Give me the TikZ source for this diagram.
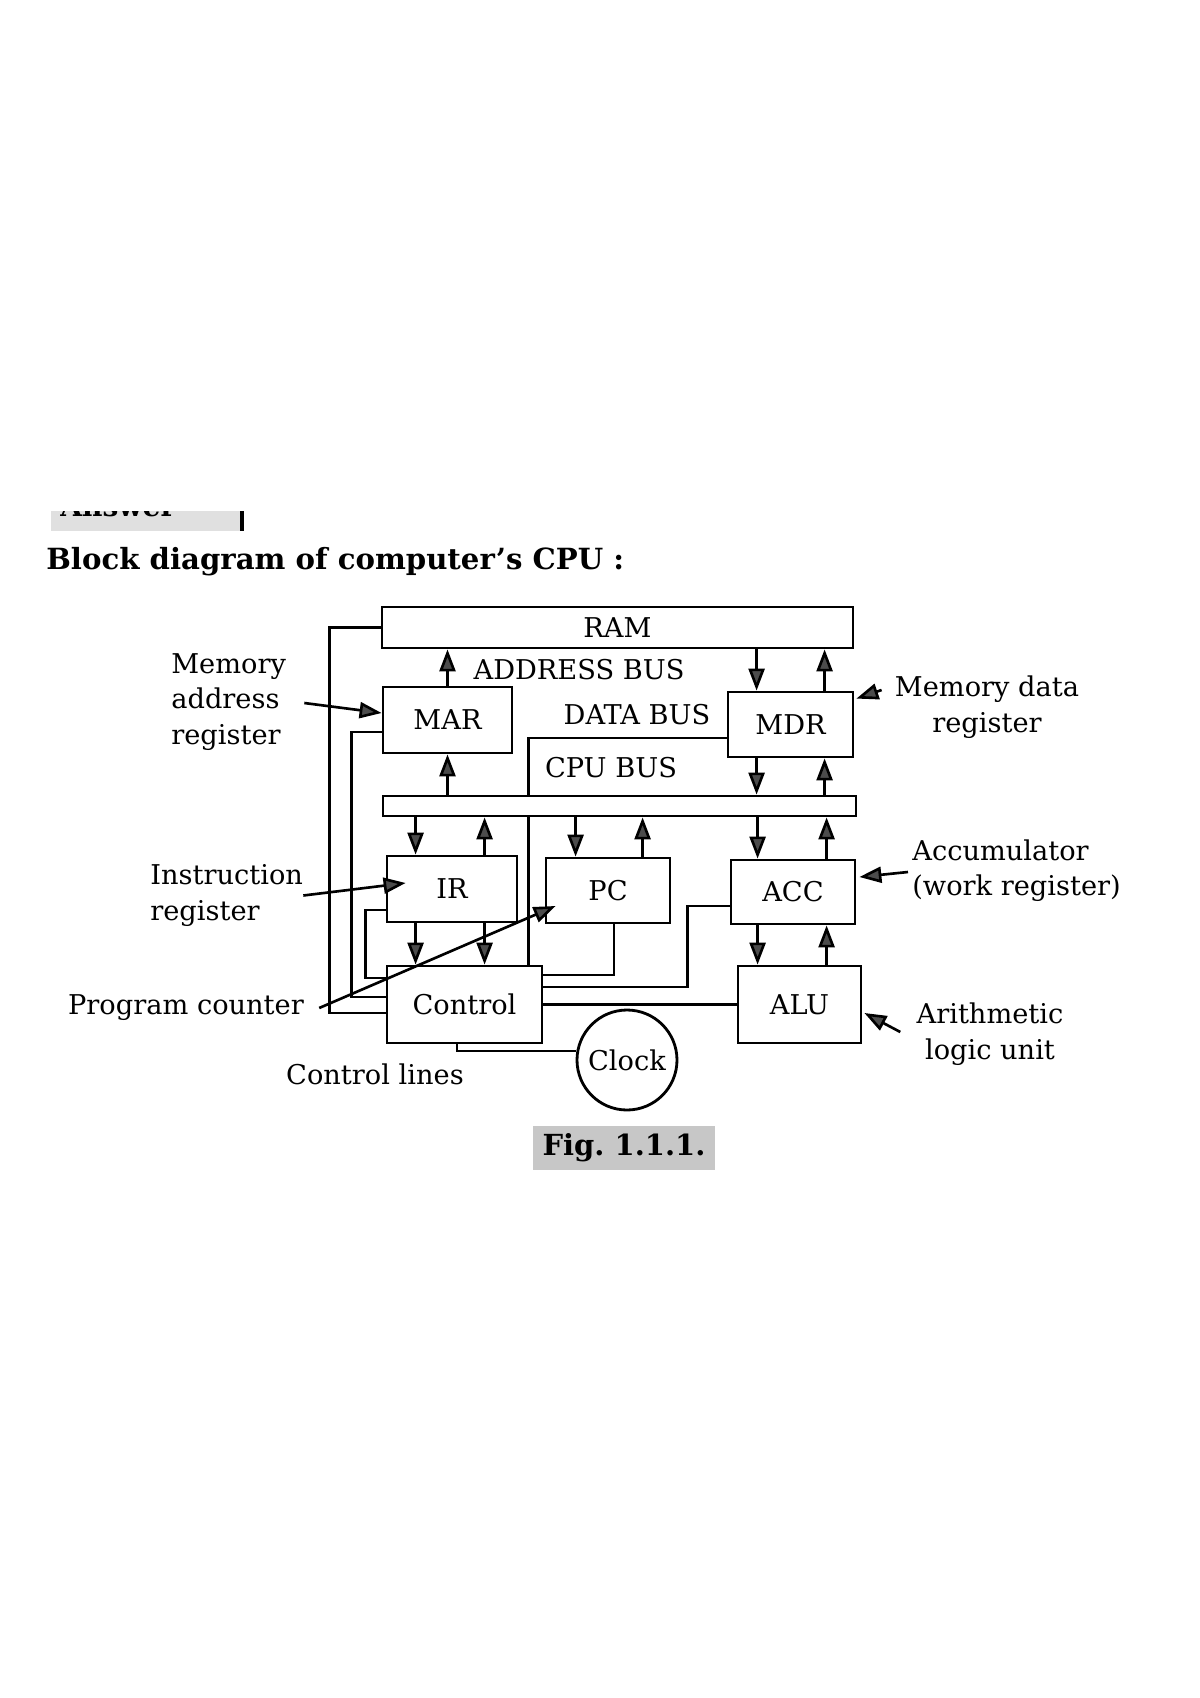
\documentclass[tikz,border=0pt]{standalone}
\usepackage{fontspec}
\setmainfont{DejaVu Serif}
\usetikzlibrary{arrows.meta,calc}
\def\pxu{0.02cm}
\tikzset{
	reg/.style={draw, line width=1.6pt, inner sep=0pt, font=\fontsize{15.5}{19}\selectfont},
	wire/.style={line width=1.5pt},
	arr/.style={line width=1.5pt, -{Triangle[length=4.4mm,width=3.2mm,fill=black!70]}},
	note/.style={inner sep=0pt, font=\fontsize{15.5}{20.2}\selectfont},
}

\begin{document}
\begin{tikzpicture}[x=0.02cm, y=-0.02cm]
		%%%%% START %%%%%
		\useasboundingbox (0,0) rectangle (1200,1698);
		
		\fill[black!12] (51,511) rectangle (243,531);
		\begin{scope}
			\clip (51,511) rectangle (243,531);
			\node[note, font=\fontsize{16}{20}\selectfont\bfseries, anchor=base west] (answer) at (60,516) {Answer};
		\end{scope}
		\draw[line width=2pt] (242,511) -- (242,531);
		\node[note, font=\fontsize{16.6}{22}\selectfont\bfseries, anchor=west] (title) at (46,562) {Block diagram of computer's CPU :};
		
		\node[reg, minimum width=471*\pxu, minimum height=41*\pxu] (ram) at (617.5,627.5) {RAM};
		\node[reg, minimum width=129*\pxu, minimum height=66*\pxu] (mar) at (447.5,720) {MAR};
		\node[reg, minimum width=125*\pxu, minimum height=65*\pxu] (mdr) at (790.5,724.5) {MDR};
		\node[reg, minimum width=473*\pxu, minimum height=20*\pxu] (cpubus) at (619.5,806) {};
		\node[reg, minimum width=130*\pxu, minimum height=66*\pxu] (ir) at (452,889) {IR};
		\node[reg, minimum width=124*\pxu, minimum height=65*\pxu] (pc) at (608,890.5) {PC};
		\node[reg, minimum width=124*\pxu, minimum height=64*\pxu] (acc) at (793,892) {ACC};
		\node[reg, minimum width=155*\pxu, minimum height=77*\pxu] (control) at (464.5,1004.5) {Control};
		\node[reg, minimum width=123*\pxu, minimum height=77*\pxu] (alu) at (799.5,1004.5) {ALU};
		\node[reg, circle, minimum size=100*\pxu] (clock) at (627,1060) {Clock};
		
		\node[note] (addrbus) at (579,670) {ADDRESS BUS};
		\node[note] (databus) at (637,715) {DATA BUS};
		\node[note] (cpubuslbl) at (611,768) {CPU BUS};
		
		% bus taps
		\coordinate (m1) at ($(mdr.north west)+(30,0)$);
		\coordinate (m2) at ($(mdr.north west)+(98,0)$);
		\coordinate (i1) at ($(ir.north west)+(30,0)$);
		\coordinate (i2) at ($(ir.north west)+(99,0)$);
		\coordinate (p1) at ($(pc.north west)+(31,0)$);
		\coordinate (p2) at ($(pc.north west)+(98,0)$);
		\coordinate (a1) at ($(acc.north west)+(28,0)$);
		\coordinate (a2) at ($(acc.north west)+(97,0)$);
		\coordinate (dl) at ($(control.north east)+(-15,0)$);
		
		\draw[arr] (mar.north) -- (mar.north |- ram.south);
		\draw[arr] (mar.south |- cpubus.north) -- (mar.south);
		\draw[arr] (m1 |- ram.south) -- (m1);
		\draw[arr] (m2) -- (m2 |- ram.south);
		\draw[arr] (m1 |- mdr.south) -- (m1 |- cpubus.north);
		\draw[arr] (m2 |- cpubus.north) -- (m2 |- mdr.south);
		\foreach \p in {i,p,a} {
			\draw[arr] (\p1 |- cpubus.south) -- (\p1);
			\draw[arr] (\p2) -- (\p2 |- cpubus.south);
		}
		\draw[arr] (i1 |- ir.south) -- (i1 |- control.north);
		\draw[arr] (i2 |- ir.south) -- (i2 |- control.north);
		\draw[arr] (a1 |- acc.south) -- (a1 |- alu.north);
		\draw[arr] (a2 |- alu.north) -- (a2 |- acc.south);
		
		% control lines
		\draw[wire] (ram.west) -- ++(-51,0) |- ($(control.west)+(0,8.5)$);
		\draw[wire] ($(mar.west)+(0,12)$) -- ++(-30,0) |- ($(control.west)+(0,-7.5)$);
		\draw[wire] ($(ir.west)+(0,21)$) -- ++(-20,0) |- ($(control.west)+(0,-26.5)$);
		\draw[wire] ($(mdr.west)+(0,13.5)$) -| (dl |- cpubus.north);
		\draw[wire] (dl |- cpubus.south) -- (dl);
		\draw[wire] ($(pc.south)+(6,0)$) |- ($(control.east)+(0,-29.5)$);
		\draw[wire] ($(acc.west)+(0,14)$) -- ++(-42,0) |- ($(control.east)+(0,-17.5)$);
		\draw[wire] (control.east) -- (alu.west);
		\draw[wire] ($(control.south)+(-7.5,0)$) |- (clock.170);
		
		% names
		\node[note, align=left, anchor=west] (lbmar) at (171,702) {Memory\\address\\register};
		\node[note, align=center] (lbmdr) at (987,707) {Memory data\\register};
		\node[note, align=left, anchor=west] (lbir) at (150,895.5) {Instruction\\register};
		\node[note, align=left, anchor=west] (lbacc) at (912,870.5) {Accumulator\\(work register)};
		\node[note, align=center] (lbalu) at (990,1034) {Arithmetic\\logic unit};
		\node[note] (lbpc) at (186,1008) {Program counter};
		\node[note] (lbctrl) at (375,1074) {Control lines};
		
		\draw[arr] ($(lbmar.east)+(18,1)$) -- ($(mar.west)+(0,-7)$);
		\draw[arr] ($(lbmdr.west)+(-13,-17)$) -- ($(mdr.north east)+(2,8)$);
		\draw[arr] (lbir.east) -- ($(ir.west)+(20,-6)$);
		\draw[arr] ($(lbacc.west)+(-4,1.5)$) -- ($(acc.east)+(3,-15)$);
		\draw[arr] ($(lbalu.west)+(-16,-2)$) -- ($(alu.east)+(2,8.5)$);
		\draw[arr] ($(lbpc.east)+(15,0)$) -- ($(pc.west)+(11,15.5)$);
		
		\node[fill=black!22, minimum width=182*\pxu, minimum height=44*\pxu, font=\fontsize{16.5}{20}\selectfont\bfseries] (fig) at (624,1148) {Fig.\ 1.1.1.};
		
		%%%%% END %%%%%
\end{tikzpicture}
\end{document}
